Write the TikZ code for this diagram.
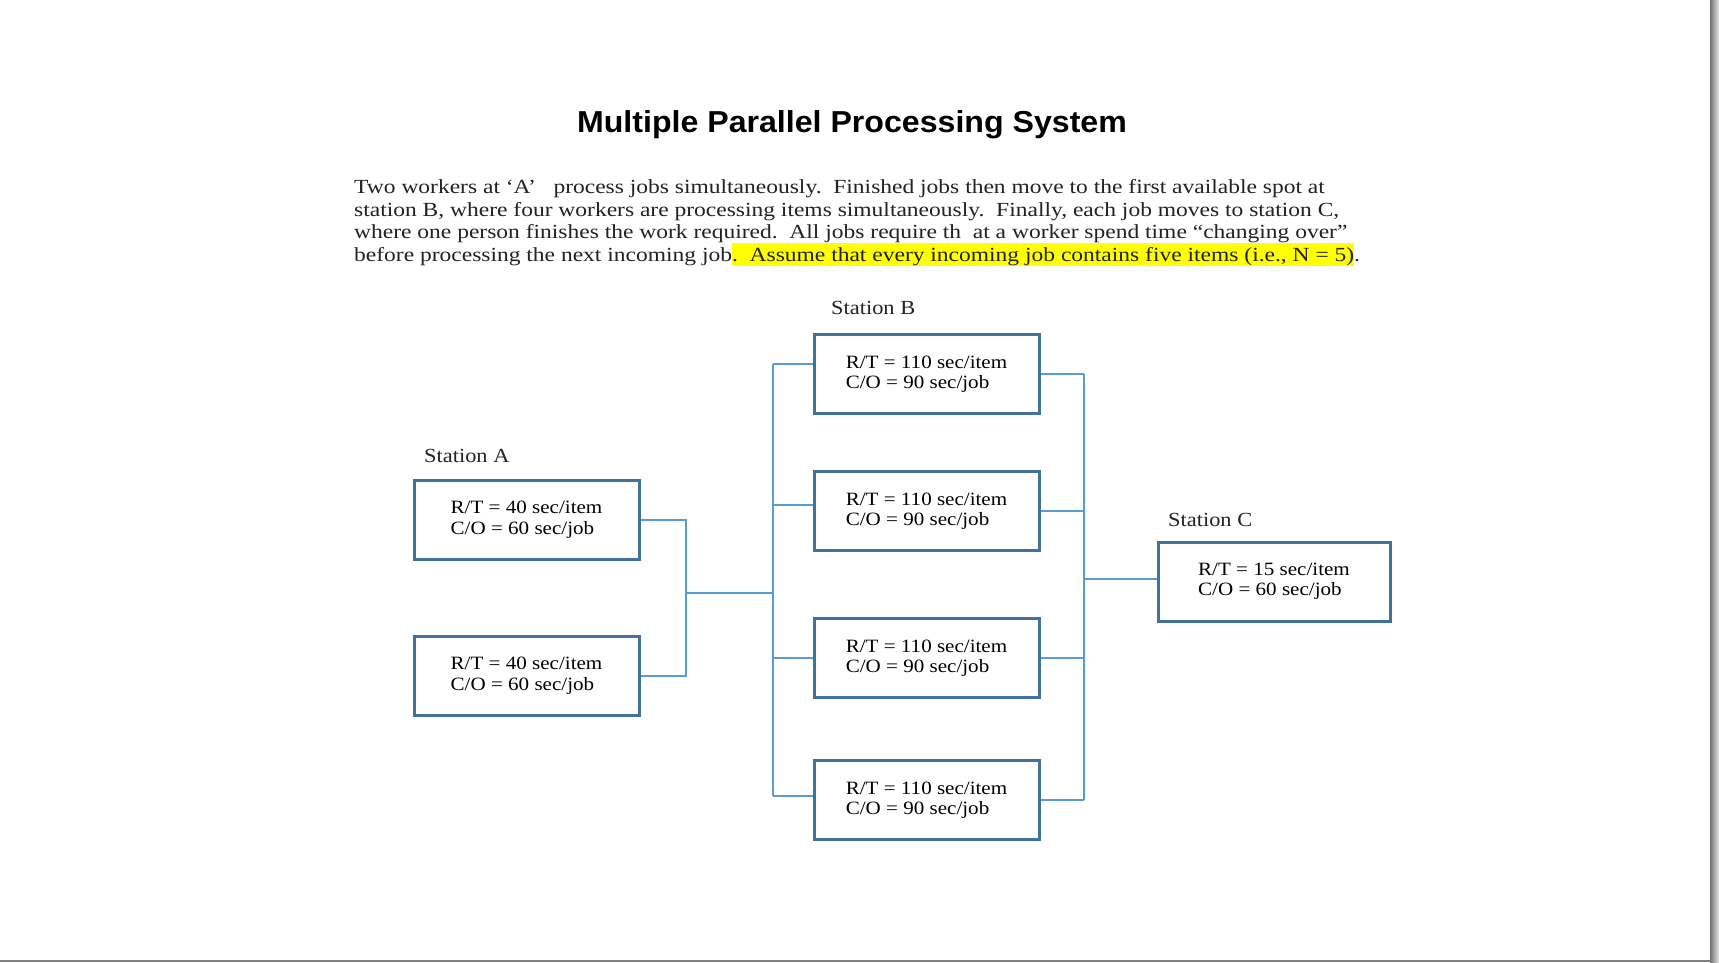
\documentclass[tikz,border=0pt]{standalone}
\usepackage{fontspec}
\usepackage{xcolor}
\usepackage{tikz}
\usetikzlibrary{calc}
\setmainfont{Liberation Serif}[FakeStretch=1.12]
\newfontfamily\parafont{Liberation Serif}[FakeStretch=1.175]
\newfontfamily\headfont{Liberation Sans}[FakeStretch=1.06]
\definecolor{ink}{HTML}{222222}
\definecolor{boxblue}{HTML}{41719C}
\definecolor{wireblue}{HTML}{5B9BD5}
\definecolor{hl}{HTML}{FFFF00}
\newcommand{\hlstrut}{\rule[-5pt]{0pt}{23pt}}
\tikzset{
  stn/.style={draw=boxblue, fill=white, line width=3pt, minimum width=225pt, minimum height=79pt,
    align=left, text=black, font=\fontsize{18.8}{20.5}\selectfont},
  wire/.style={draw=wireblue, line width=2pt},
  lab/.style={anchor=west, inner sep=0pt, text=ink, font=\fontsize{20}{22}\selectfont},
  para/.style={anchor=base west, inner sep=0pt, text=ink, font=\parafont\fontsize{20}{22.5}\selectfont},
}

\begin{document}
\begin{tikzpicture}[x=1pt,y=-1pt]
  \useasboundingbox (0,0) rectangle (1719,962);
  \fill[white] (0,0) rectangle (1710,960);
  \shade[left color=black!55, right color=black!10] (1710,0) rectangle (1719,962);
  \fill[black!50] (0,960) rectangle (1710,962);

  % title and text
  \node[font=\headfont\bfseries\fontsize{30.3}{34}\selectfont] (title) at (852,125) {Multiple Parallel Processing System};
  \node[para] (l1) at (354,193) {Two workers at ‘A’\ \ \ process jobs simultaneously.\ \ Finished jobs then move to the first available spot at};
  \node[para] (l2) at (354,216) {station B, where four workers are processing items simultaneously.\ \ Finally, each job moves to station C,};
  \node[para] (l3) at (354,238) {where one person finishes the work required.\ \ All jobs require th\ \ at a worker spend time “changing over”};
  \node[para] (l4) at (354,261) {before processing the next incoming job{\setlength{\fboxsep}{0pt}\colorbox{hl}{\hlstrut.\ \ Assume that every incoming job contains five items (i.e., N = 5)}}.};

  % stations
  \node[lab] (la) at (424,456) {Station A};
  \node[lab] (lb) at (831,308) {Station B};
  \node[lab] (lc) at (1168,520) {Station C};

  \coordinate (jA) at (686,593);
  \coordinate (busL) at (773,0);
  \coordinate (busR) at (1084,0);

  \node[stn] (A1) at (526.5,519.5) {R/T = 40 sec/item\\C/O = 60 sec/job};
  \node[stn] (A2) at (526.5,675.5) {R/T = 40 sec/item\\C/O = 60 sec/job};
  \node[stn] (B1) at (926.5,374) {R/T = 110 sec/item\\C/O = 90 sec/job};
  \node[stn] (B2) at (926.5,511) {R/T = 110 sec/item\\C/O = 90 sec/job};
  \node[stn] (B3) at (926.5,658) {R/T = 110 sec/item\\C/O = 90 sec/job};
  \node[stn] (B4) at (926.5,800) {R/T = 110 sec/item\\C/O = 90 sec/job};
  \node[stn, minimum width=232pt] (C) at (1274,581.5) {R/T = 15 sec/item\\C/O = 60 sec/job};

  % connectors
  \draw[wire] (A1.east) -| (jA) |- (A2.east);
  \draw[wire] (jA) -- (jA -| busL);
  \draw[wire] ($(B1.west -| busL)+(0,-10)$) -- ($(B4.west -| busL)+(0,-4)$);
  \draw[wire] (B1.east -| busR) -- (B4.east -| busR);
  \foreach \b/\dy in {B1/-10,B2/-6,B3/0,B4/-4} {
    \draw[wire] ($(\b.west)+(0,\dy)$) -- ($(\b.west -| busL)+(0,\dy)$);
    \draw[wire] (\b.east) -- (\b.east -| busR);
  }
  \draw[wire] ($(C.west)+(0,-3)$) -- ($(C.west -| busR)+(0,-3)$);
\end{tikzpicture}
\end{document}
